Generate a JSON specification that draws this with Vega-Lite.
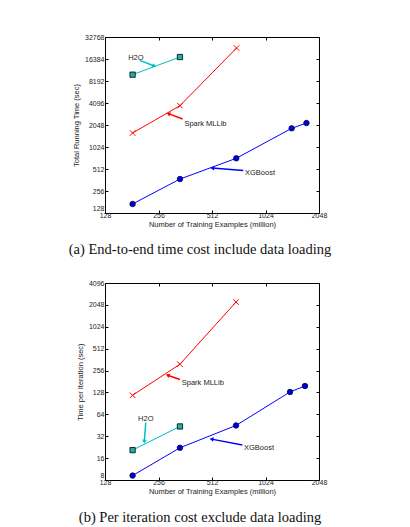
{
  "$schema": "https://vega.github.io/schema/vega-lite/v6.json",
  "background": "white",
  "padding": {"left": 68, "top": 32, "right": 5, "bottom": 5},
  "spacing": 21,
  "config": {
    "font": "Liberation Sans",
    "view": {"stroke": "#000", "strokeWidth": 1},
    "axis": {
      "labelFont": "Liberation Sans", "labelFontSize": 7, "labelColor": "#222",
      "titleFont": "Liberation Sans", "titleFontSize": 7.5, "titleFontWeight": "normal", "titleColor": "#222",
      "tickColor": "#000", "tickSize": -3, "domain": false, "grid": false, "labelFlush": false, "labelOverlap": false, "format": "d"
    }
  },
  "datasets": {
    "series": [
      {"panel": "a", "system": "XGBoost", "n": 183, "t": 170},
      {"panel": "a", "system": "XGBoost", "n": 338, "t": 373},
      {"panel": "a", "system": "XGBoost", "n": 701, "t": 717},
      {"panel": "a", "system": "XGBoost", "n": 1437, "t": 1843},
      {"panel": "a", "system": "XGBoost", "n": 1741, "t": 2179},
      {"panel": "a", "system": "Spark MLLib", "n": 183, "t": 1591},
      {"panel": "a", "system": "Spark MLLib", "n": 338, "t": 3763},
      {"panel": "a", "system": "Spark MLLib", "n": 704, "t": 23170},
      {"panel": "a", "system": "H2O", "n": 183, "t": 10000},
      {"panel": "a", "system": "H2O", "n": 338, "t": 17430},
      {"panel": "b", "system": "XGBoost", "n": 183, "t": 9.2},
      {"panel": "b", "system": "XGBoost", "n": 338, "t": 22.2},
      {"panel": "b", "system": "XGBoost", "n": 699, "t": 45},
      {"panel": "b", "system": "XGBoost", "n": 1407, "t": 130},
      {"panel": "b", "system": "XGBoost", "n": 1708, "t": 157},
      {"panel": "b", "system": "Spark MLLib", "n": 183, "t": 117},
      {"panel": "b", "system": "Spark MLLib", "n": 338, "t": 313},
      {"panel": "b", "system": "Spark MLLib", "n": 699, "t": 2240},
      {"panel": "b", "system": "H2O", "n": 183, "t": 20.6},
      {"panel": "b", "system": "H2O", "n": 338, "t": 43.6}
    ],
    "notes": [
      {"panel": "a", "system": "H2O", "label": "H2O", "lx": 191, "ly": 16900, "ax": 201, "ay": 15700, "hx": 242.6, "hy": 13150},
      {"panel": "a", "system": "Spark MLLib", "label": "Spark MLLib", "lx": 358, "ly": 2140, "ax": 350, "ay": 2474, "hx": 291, "hy": 2928},
      {"panel": "a", "system": "XGBoost", "label": "XGBoost", "lx": 785, "ly": 447, "ax": 768, "ay": 490, "hx": 514, "hy": 528},
      {"panel": "b", "system": "H2O", "label": "H2O", "lx": 217, "ly": 55, "ax": 217, "ay": 49, "hx": 213, "hy": 26.9},
      {"panel": "b", "system": "Spark MLLib", "label": "Spark MLLib", "lx": 346, "ly": 170, "ax": 338, "ay": 193, "hx": 288, "hy": 221},
      {"panel": "b", "system": "XGBoost", "label": "XGBoost", "lx": 775, "ly": 21.8, "ax": 759, "ay": 24.2, "hx": 509, "hy": 29.2}
    ]
  },
  "vconcat": [
    {
      "width": 214, "height": 176,
      "title": {"text": "(a) End-to-end time cost include data loading", "orient": "bottom", "frame": "group", "anchor": "middle", "dx": -12, "offset": 15, "font": "Liberation Serif", "fontSize": 14.5, "fontWeight": "normal", "color": "#111"},
      "resolve": {"scale": {"x": "independent", "y": "independent"}},
      "layer": [
        {
          "data": {"name": "series"},
          "transform": [{"filter": "datum.panel === 'a'"}],
          "layer": [
            {
              "mark": {"type": "line", "strokeWidth": 1},
              "encoding": {
                "x": {"field": "n", "type": "quantitative", "scale": {"type": "log", "base": 2, "domain": [128, 2048], "nice": false}, "axis": {"values": [128, 256, 512, 1024, 2048], "title": "Number of Training Examples (million)", "labelPadding": 1, "titlePadding": 2}},
                "y": {"field": "t", "type": "quantitative", "scale": {"type": "log", "base": 2, "domain": [128, 32768], "nice": false}, "axis": {"values": [128, 256, 512, 1024, 2048, 4096, 8192, 16384, 32768], "title": "Total Running Time (sec)", "labelPadding": 4, "titlePadding": 4, "labelBaseline": {"condition": {"test": "datum.value <= 128", "value": "bottom"}, "value": "middle"}, "labelOffset": {"condition": {"test": "datum.value <= 128", "value": -2}, "value": 0}}},
                "color": {"field": "system", "type": "nominal", "scale": {"domain": ["XGBoost", "Spark MLLib", "H2O"], "range": ["#0000ff", "#ff0000", "#00bfbf"]}, "legend": null},
                "detail": {"field": "system"}
              }
            },
            {
              "transform": [{"filter": "datum.system === 'XGBoost'"}],
              "mark": {"type": "point", "shape": "circle", "filled": true, "fill": "#0000dd", "stroke": "#000044", "strokeWidth": 0.8, "size": 30, "opacity": 1},
              "encoding": {"x": {"field": "n", "type": "quantitative"}, "y": {"field": "t", "type": "quantitative"}}
            },
            {
              "transform": [{"filter": "datum.system === 'Spark MLLib'"}],
              "mark": {"type": "point", "shape": "M-1,-1L1,1M-1,1L1,-1", "filled": false, "stroke": "#ff0000", "strokeWidth": 1, "size": 30, "opacity": 1},
              "encoding": {"x": {"field": "n", "type": "quantitative"}, "y": {"field": "t", "type": "quantitative"}}
            },
            {
              "transform": [{"filter": "datum.system === 'H2O'"}],
              "mark": {"type": "point", "shape": "square", "filled": true, "fill": "#1fb0a8", "stroke": "#000", "strokeWidth": 0.8, "size": 28, "opacity": 1},
              "encoding": {"x": {"field": "n", "type": "quantitative"}, "y": {"field": "t", "type": "quantitative"}}
            },
            {
              "data": {"name": "notes"},
              "transform": [{"filter": "datum.panel === 'a'"}],
              "mark": {"type": "rule", "strokeWidth": 1.5},
              "encoding": {
                "x": {"field": "ax", "type": "quantitative"}, "y": {"field": "ay", "type": "quantitative"},
                "x2": {"field": "hx"}, "y2": {"field": "hy"},
                "color": {"field": "system", "type": "nominal"}
              }
            },
            {
              "data": {"name": "notes"},
              "transform": [{"filter": "datum.panel === 'a' && datum.system === 'H2O'"}],
              "mark": {"type": "point", "shape": "triangle-up", "filled": true, "size": 20, "angle": 112, "opacity": 1, "color": "#00bfbf"},
              "encoding": {"x": {"field": "hx", "type": "quantitative"}, "y": {"field": "hy", "type": "quantitative"}}
            },
            {
              "data": {"name": "notes"},
              "transform": [{"filter": "datum.panel === 'a' && datum.system === 'Spark MLLib'"}],
              "mark": {"type": "point", "shape": "triangle-up", "filled": true, "size": 20, "angle": 290, "opacity": 1, "color": "#ff0000"},
              "encoding": {"x": {"field": "hx", "type": "quantitative"}, "y": {"field": "hy", "type": "quantitative"}}
            },
            {
              "data": {"name": "notes"},
              "transform": [{"filter": "datum.panel === 'a' && datum.system === 'XGBoost'"}],
              "mark": {"type": "point", "shape": "triangle-up", "filled": true, "size": 20, "angle": 274, "opacity": 1, "color": "#0000ff"},
              "encoding": {"x": {"field": "hx", "type": "quantitative"}, "y": {"field": "hy", "type": "quantitative"}}
            },
            {
              "data": {"name": "notes"},
              "transform": [{"filter": "datum.panel === 'a' && datum.system === 'H2O'"}],
              "mark": {"type": "text", "align": "center", "baseline": "middle", "fontSize": 7.5, "color": "#222"},
              "encoding": {"x": {"field": "lx", "type": "quantitative"}, "y": {"field": "ly", "type": "quantitative"}, "text": {"field": "label"}}
            },
            {
              "data": {"name": "notes"},
              "transform": [{"filter": "datum.panel === 'a' && datum.system !== 'H2O'"}],
              "mark": {"type": "text", "align": "left", "baseline": "middle", "fontSize": 7.5, "color": "#222"},
              "encoding": {"x": {"field": "lx", "type": "quantitative"}, "y": {"field": "ly", "type": "quantitative"}, "text": {"field": "label"}}
            }
          ]
        },
        {
          "data": {"name": "series"},
          "transform": [{"filter": "datum.panel === 'a'"}],
          "mark": {"type": "point", "opacity": 0},
          "encoding": {
            "x": {"field": "n", "type": "quantitative", "scale": {"type": "log", "base": 2, "domain": [128, 2048], "nice": false}, "axis": {"orient": "top", "values": [128, 256, 512, 1024, 2048], "labels": false, "title": null}},
            "y": {"field": "t", "type": "quantitative", "scale": {"type": "log", "base": 2, "domain": [128, 32768], "nice": false}, "axis": {"orient": "right", "values": [128, 256, 512, 1024, 2048, 4096, 8192, 16384, 32768], "labels": false, "title": null}}
          }
        }
      ]
    },
    {
      "width": 214, "height": 197,
      "title": {"text": "(b) Per iteration cost exclude data loading", "orient": "bottom", "frame": "group", "anchor": "middle", "dx": -12, "offset": 16, "font": "Liberation Serif", "fontSize": 14.5, "fontWeight": "normal", "color": "#111"},
      "resolve": {"scale": {"x": "independent", "y": "independent"}},
      "layer": [
        {
          "data": {"name": "series"},
          "transform": [{"filter": "datum.panel === 'b'"}],
          "layer": [
            {
              "mark": {"type": "line", "strokeWidth": 1},
              "encoding": {
                "x": {"field": "n", "type": "quantitative", "scale": {"type": "log", "base": 2, "domain": [128, 2048], "nice": false}, "axis": {"values": [128, 256, 512, 1024, 2048], "title": "Number of Training Examples (million)", "labelPadding": 1, "titlePadding": 2}},
                "y": {"field": "t", "type": "quantitative", "scale": {"type": "log", "base": 2, "domain": [8, 4096], "nice": false}, "axis": {"values": [8, 16, 32, 64, 128, 256, 512, 1024, 2048, 4096], "title": "Time per Iteration (sec)", "labelPadding": 4, "titlePadding": 4, "labelBaseline": {"condition": {"test": "datum.value <= 8", "value": "bottom"}, "value": "middle"}, "labelOffset": {"condition": {"test": "datum.value <= 8", "value": -2}, "value": 0}}},
                "color": {"field": "system", "type": "nominal", "scale": {"domain": ["XGBoost", "Spark MLLib", "H2O"], "range": ["#0000ff", "#ff0000", "#00bfbf"]}, "legend": null},
                "detail": {"field": "system"}
              }
            },
            {
              "transform": [{"filter": "datum.system === 'XGBoost'"}],
              "mark": {"type": "point", "shape": "circle", "filled": true, "fill": "#0000dd", "stroke": "#000044", "strokeWidth": 0.8, "size": 30, "opacity": 1},
              "encoding": {"x": {"field": "n", "type": "quantitative"}, "y": {"field": "t", "type": "quantitative"}}
            },
            {
              "transform": [{"filter": "datum.system === 'Spark MLLib'"}],
              "mark": {"type": "point", "shape": "M-1,-1L1,1M-1,1L1,-1", "filled": false, "stroke": "#ff0000", "strokeWidth": 1, "size": 30, "opacity": 1},
              "encoding": {"x": {"field": "n", "type": "quantitative"}, "y": {"field": "t", "type": "quantitative"}}
            },
            {
              "transform": [{"filter": "datum.system === 'H2O'"}],
              "mark": {"type": "point", "shape": "square", "filled": true, "fill": "#1fb0a8", "stroke": "#000", "strokeWidth": 0.8, "size": 28, "opacity": 1},
              "encoding": {"x": {"field": "n", "type": "quantitative"}, "y": {"field": "t", "type": "quantitative"}}
            },
            {
              "data": {"name": "notes"},
              "transform": [{"filter": "datum.panel === 'b'"}],
              "mark": {"type": "rule", "strokeWidth": 1.5},
              "encoding": {
                "x": {"field": "ax", "type": "quantitative"}, "y": {"field": "ay", "type": "quantitative"},
                "x2": {"field": "hx"}, "y2": {"field": "hy"},
                "color": {"field": "system", "type": "nominal"}
              }
            },
            {
              "data": {"name": "notes"},
              "transform": [{"filter": "datum.panel === 'b' && datum.system === 'H2O'"}],
              "mark": {"type": "point", "shape": "triangle-up", "filled": true, "size": 20, "angle": 184, "opacity": 1, "color": "#00bfbf"},
              "encoding": {"x": {"field": "hx", "type": "quantitative"}, "y": {"field": "hy", "type": "quantitative"}}
            },
            {
              "data": {"name": "notes"},
              "transform": [{"filter": "datum.panel === 'b' && datum.system === 'Spark MLLib'"}],
              "mark": {"type": "point", "shape": "triangle-up", "filled": true, "size": 20, "angle": 289, "opacity": 1, "color": "#ff0000"},
              "encoding": {"x": {"field": "hx", "type": "quantitative"}, "y": {"field": "hy", "type": "quantitative"}}
            },
            {
              "data": {"name": "notes"},
              "transform": [{"filter": "datum.panel === 'b' && datum.system === 'XGBoost'"}],
              "mark": {"type": "point", "shape": "triangle-up", "filled": true, "size": 20, "angle": 281, "opacity": 1, "color": "#0000ff"},
              "encoding": {"x": {"field": "hx", "type": "quantitative"}, "y": {"field": "hy", "type": "quantitative"}}
            },
            {
              "data": {"name": "notes"},
              "transform": [{"filter": "datum.panel === 'b' && datum.system === 'H2O'"}],
              "mark": {"type": "text", "align": "center", "baseline": "middle", "fontSize": 7.5, "color": "#222"},
              "encoding": {"x": {"field": "lx", "type": "quantitative"}, "y": {"field": "ly", "type": "quantitative"}, "text": {"field": "label"}}
            },
            {
              "data": {"name": "notes"},
              "transform": [{"filter": "datum.panel === 'b' && datum.system !== 'H2O'"}],
              "mark": {"type": "text", "align": "left", "baseline": "middle", "fontSize": 7.5, "color": "#222"},
              "encoding": {"x": {"field": "lx", "type": "quantitative"}, "y": {"field": "ly", "type": "quantitative"}, "text": {"field": "label"}}
            }
          ]
        },
        {
          "data": {"name": "series"},
          "transform": [{"filter": "datum.panel === 'b'"}],
          "mark": {"type": "point", "opacity": 0},
          "encoding": {
            "x": {"field": "n", "type": "quantitative", "scale": {"type": "log", "base": 2, "domain": [128, 2048], "nice": false}, "axis": {"orient": "top", "values": [128, 256, 512, 1024, 2048], "labels": false, "title": null}},
            "y": {"field": "t", "type": "quantitative", "scale": {"type": "log", "base": 2, "domain": [8, 4096], "nice": false}, "axis": {"orient": "right", "values": [8, 16, 32, 64, 128, 256, 512, 1024, 2048, 4096], "labels": false, "title": null}}
          }
        }
      ]
    }
  ]
}
